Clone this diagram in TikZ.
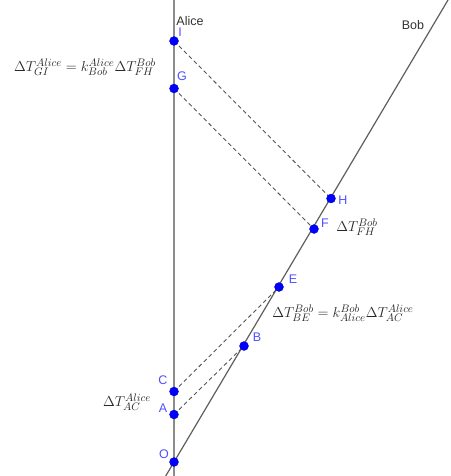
\documentclass[tikz,border=0pt]{standalone}
\usepackage{fontspec}
\setsansfont{Liberation Sans}
\definecolor{ptblue}{RGB}{0,0,255}
\definecolor{lblblue}{RGB}{80,80,255}
\definecolor{alicegray}{RGB}{140,140,140}
\definecolor{bobgray}{RGB}{95,95,95}
\definecolor{dashgray}{RGB}{85,85,85}
\definecolor{mathgray}{RGB}{40,40,40}
\tikzset{
  pt/.style={circle, fill=ptblue, draw=ptblue!70!black, line width=0.3pt, minimum size=9pt, inner sep=0pt},
  ptlbl/.style={font=\sffamily\fontsize{12.5}{14}\selectfont, text=lblblue, inner sep=0pt},
  namelbl/.style={font=\sffamily\fontsize{12.5}{14}\selectfont, text=black!80, inner sep=0pt},
  mathlbl/.style={font=\fontsize{15}{18}\selectfont, text=mathgray, inner sep=0pt},
  aliceline/.style={draw=alicegray, line width=2pt},
  bobline/.style={draw=bobgray, line width=1.2pt},
  lightline/.style={draw=dashgray, line width=0.9pt, dash pattern=on 4pt off 3pt}
}
\begin{document}
\begin{tikzpicture}[x=1pt,y=-1pt]
\useasboundingbox (0,0) rectangle (450,476);
\fill[white] (0,0) rectangle (450,476);
% world lines
\coordinate (aTop) at (174,0);
\coordinate (aBot) at (174,476);
\coordinate (bTop) at (448,0);
\coordinate (bBot) at (165.7,476);
\draw[aliceline] (aTop) -- (aBot);
\draw[bobline] (bBot) -- (bTop);
% points
\coordinate (Ic) at (174,41);
\coordinate (Gc) at (174,88.5);
\coordinate (Cc) at (174,391.5);
\coordinate (Ac) at (174,414.5);
\coordinate (Oc) at (174,462);
\coordinate (Hc) at (331,198.5);
\coordinate (Fc) at (314,229);
\coordinate (Ec) at (279,287);
\coordinate (Bc) at (244,346);
% light signals
\draw[lightline] (Ic) -- (Hc);
\draw[lightline] (Gc) -- (Fc);
\draw[lightline] (Cc) -- (Ec);
\draw[lightline] (Ac) -- (Bc);
\node[pt] (I) at (Ic) {};
\node[pt] (G) at (Gc) {};
\node[pt] (C) at (Cc) {};
\node[pt] (A) at (Ac) {};
\node[pt] (O) at (Oc) {};
\node[pt] (H) at (Hc) {};
\node[pt] (F) at (Fc) {};
\node[pt] (E) at (Ec) {};
\node[pt] (B) at (Bc) {};
% point labels
\node[ptlbl] (lI) at (180,32) {I};
\node[ptlbl] (lG) at (182,76) {G};
\node[ptlbl] (lC) at (163,380) {C};
\node[ptlbl] (lA) at (163,408) {A};
\node[ptlbl] (lO) at (164,454) {O};
\node[ptlbl] (lH) at (343,200) {H};
\node[ptlbl] (lF) at (325,223) {F};
\node[ptlbl] (lE) at (293,279) {E};
\node[ptlbl] (lB) at (257,337) {B};
% names
\node[namelbl] (alice) at (190,21) {Alice};
\node[namelbl] (bob) at (413,25) {Bob};
% formulas
\node[mathlbl] (mGI) at (85,67) {$\Delta T_{GI}^{Alice}=k_{Bob}^{Alice}\Delta T_{FH}^{Bob}$};
\node[mathlbl] (mFH) at (357,227) {$\Delta T_{FH}^{Bob}$};
\node[mathlbl] (mBE) at (343,313) {$\Delta T_{BE}^{Bob}=k_{Alice}^{Bob}\Delta T_{AC}^{Alice}$};
\node[mathlbl] (mAC) at (127,402) {$\Delta T_{AC}^{Alice}$};
\end{tikzpicture}
\end{document}
